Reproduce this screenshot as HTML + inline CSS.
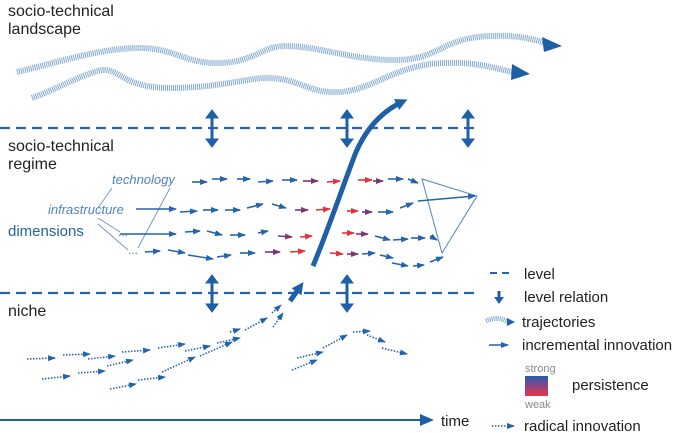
<!DOCTYPE html>
<html><head><meta charset="utf-8"><style>
html,body{margin:0;padding:0;background:#fff;}
svg{display:block;font-family:"Liberation Sans","DejaVu Sans",sans-serif;}
</style></head><body>
<svg width="685" height="433" viewBox="0 0 685 433">
<defs>
<marker id="mb" markerWidth="8" markerHeight="6" refX="7" refY="3" orient="auto" markerUnits="userSpaceOnUse"><path d="M0,0 L8,3 L0,6 Z" fill="#2464ac"/></marker>
<marker id="mp" markerWidth="8" markerHeight="6" refX="7" refY="3" orient="auto" markerUnits="userSpaceOnUse"><path d="M0,0 L8,3 L0,6 Z" fill="#7b3677"/></marker>
<marker id="mr" markerWidth="8" markerHeight="6" refX="7" refY="3" orient="auto" markerUnits="userSpaceOnUse"><path d="M0,0 L8,3 L0,6 Z" fill="#e2323c"/></marker>
<marker id="mbig" markerWidth="12" markerHeight="12" refX="6" refY="6" orient="auto" markerUnits="userSpaceOnUse"><path d="M0,0 L12,6 L0,12 Z" fill="#1f5fa8"/></marker>
<linearGradient id="pg" x1="0" y1="0" x2="0" y2="1"><stop offset="0" stop-color="#2a5cae"/><stop offset="0.5" stop-color="#8a4585"/><stop offset="1" stop-color="#ee3340"/></linearGradient>
</defs>

<g fill="none">
<path d="M17,72 C60,62 100,48 140,48 C175,48 185,64 220,63 C255,62 262,46 285,46 C320,46 350,60 395,60 C440,60 440,38 490,36 C515,35 530,38 545,43" stroke="#7fa6d0" stroke-width="6" stroke-dasharray="1 1"/>
<path d="M32,98 C60,88 90,70 105,70 C120,70 125,88 170,88 C220,88 250,77 270,78 C300,79 310,94 340,92 C370,90 390,70 430,64 C470,60 490,67 512,72" stroke="#7fa6d0" stroke-width="6" stroke-dasharray="1 1"/>
<path d="M542,37 L562,46 L544,52 Z" fill="#1f5fa8"/>
<path d="M512,64 L530,74 L511,80 Z" fill="#1f5fa8"/>
</g>

<g stroke="#2464ac" stroke-width="2.2" stroke-dasharray="10 6">
<line x1="0" y1="128" x2="478" y2="128"/>
<line x1="0" y1="293" x2="478" y2="293"/>
</g>

<g fill="#1f5fa8" stroke="#1f5fa8">
<g><line x1="212" y1="116" x2="212" y2="141" stroke-width="3"/><path d="M206,118 L212,110 L218,118 Z"/><path d="M206,139 L212,147 L218,139 Z"/></g>
<g><line x1="347" y1="116" x2="347" y2="141" stroke-width="3"/><path d="M341,118 L347,110 L353,118 Z"/><path d="M341,139 L347,147 L353,139 Z"/></g>
<g><line x1="468" y1="116" x2="468" y2="141" stroke-width="3"/><path d="M462,118 L468,110 L474,118 Z"/><path d="M462,139 L468,147 L474,139 Z"/></g>
<g><line x1="212" y1="281" x2="212" y2="306" stroke-width="3"/><path d="M206,283 L212,275 L218,283 Z"/><path d="M206,304 L212,312 L218,304 Z"/></g>
<g><line x1="347" y1="281" x2="347" y2="306" stroke-width="3"/><path d="M341,283 L347,275 L353,283 Z"/><path d="M341,304 L347,312 L353,304 Z"/></g>
</g>

<g font-size="16" fill="#222">
<text x="8" y="16">socio-technical</text>
<text x="8" y="34">landscape</text>
<text x="8" y="151">socio-technical</text>
<text x="8" y="169">regime</text>
<text x="8" y="316">niche</text>
</g>

<g fill="#4f84c0">
<text x="112" y="184" font-size="13" font-style="italic">technology</text>
<text x="48" y="214" font-size="13" font-style="italic">infrastructure</text>
<text x="8" y="236" font-size="15" fill="#2464ac">dimensions</text>
<text x="118" y="236" font-size="12">...</text>
<text x="128" y="254" font-size="12">...</text>
<g stroke="#6a96c8" stroke-width="0.9" fill="none">
<line x1="112" y1="188" x2="98" y2="208"/>
<line x1="170" y1="188" x2="138" y2="248"/>
<line x1="98" y1="218" x2="120" y2="232"/>
<line x1="98" y1="224" x2="128" y2="250"/>
</g>
</g>

<path d="M422,179 L477,196 L442,253 Z" fill="none" stroke="#4f84c0" stroke-width="1"/>

<g id="incremental"></g>

<g fill="none" stroke="#1f5fa8">
<path d="M313,266 C330,225 345,180 356,152 C368,125 385,110 402,102" stroke-width="5" marker-end="url(#mbig)"/>
<path d="M290,301 L300,287" stroke-width="5" marker-end="url(#mbig)"/>
</g>

<g id="radical"></g>

<g>
<line x1="0" y1="420" x2="422" y2="420" stroke="#1f5fa8" stroke-width="2"/>
<path d="M420,414 L434,420 L420,426 Z" fill="#1f5fa8"/>
<text x="441" y="426" font-size="15" fill="#222">time</text>
</g>

<g font-size="15" fill="#222">
<g><line x1="490" y1="273" x2="512" y2="273" stroke="#2464ac" stroke-width="2" stroke-dasharray="7 5"/><text x="524" y="279">level</text></g>
<g><line x1="499" y1="291" x2="499" y2="298" stroke="#1f5fa8" stroke-width="3"/><path d="M494,297 L499,304 L504,297 Z" fill="#1f5fa8"/><text x="524" y="302">level relation</text></g>
<g><path d="M486,321 C495,317 502,318 508,322" stroke="#7fa6d0" stroke-width="5" stroke-dasharray="1 1" fill="none"/><path d="M507,318 L515,322 L507,326 Z" fill="#1f5fa8"/><text x="522" y="327">trajectories</text></g>
<g><line x1="489" y1="345" x2="508" y2="345" stroke="#2464ac" stroke-width="1.5" marker-end="url(#mb)"/><text x="522" y="350">incremental innovation</text></g>
<g>
<text x="525" y="372" font-size="11" fill="#888">strong</text>
<rect x="525" y="376" width="23" height="20" fill="url(#pg)"/>
<text x="525" y="408" font-size="11" fill="#888">weak</text>
<text x="572" y="390">persistence</text>
</g>
<g><line x1="492" y1="426" x2="514" y2="426" stroke="#2464ac" stroke-width="1.5" stroke-dasharray="1.5 1.5" marker-end="url(#mb)"/><text x="524" y="431">radical innovation</text></g>
</g>

<script>
const incSegments = [
[192,182,207,182,'b'],[212,179,227,179,'b'],[237,179,250,179,'b'],[258,182,273,181,'b'],[282,180,297,180,'b'],[303,181,318,181,'p'],[327,182,340,181,'r'],[358,180,372,180,'r'],[373,181,383,181,'p'],[388,179,403,179,'b'],[408,179,418,183,'b'],
[136,209,176,209,'b'],[180,212,197,211,'b'],[203,210,218,210,'b'],[225,210,240,210,'b'],[247,208,263,204,'b'],[272,204,286,208,'b'],[295,210,308,210,'p'],[316,210,330,209,'r'],[347,211,358,211,'r'],[362,212,372,212,'p'],[378,212,393,212,'b'],[400,208,413,203,'b'],[418,201,475,196,'b'],
[120,234,176,234,'b'],[185,232,200,231,'b'],[207,231,222,235,'b'],[230,235,245,235,'b'],[258,233,268,231,'b'],[278,236,292,237,'p'],[300,237,312,236,'r'],[342,233,354,233,'r'],[356,234,368,234,'p'],[375,236,390,240,'b'],[393,240,408,239,'b'],[411,238,425,238,'b'],[430,236,437,240,'b'],
[145,252,160,251,'b'],[168,250,185,253,'b'],[188,255,213,259,'b'],[217,257,231,255,'b'],[240,253,255,253,'b'],[265,252,280,252,'p'],[290,252,305,251,'r'],[330,253,343,254,'r'],[347,254,358,254,'p'],[362,254,375,253,'b'],[380,255,393,258,'b'],[392,263,408,266,'b'],[413,266,424,265,'b'],[430,262,443,257,'b']
];
const radSegments = [
[27,359,55,358],[42,379,70,376],[63,355,90,354],[78,373,105,371],[88,359,115,356],[107,366,133,360],[122,352,150,350],[110,389,136,384],[138,380,165,377],[158,348,185,344],[162,372,195,357],[185,351,210,346],[200,356,232,342],[217,343,240,338],[230,332,240,329],[245,330,267,318],[272,313,281,305],[273,327,283,313],
[292,370,317,360],[297,358,323,352],[323,348,347,335],[353,332,370,331],[367,335,385,342],[382,348,407,354]
];
const colorMap = {b:'#2464ac', p:'#7b3677', r:'#e2323c'};
const NS = 'http://www.w3.org/2000/svg';
const gi = document.getElementById('incremental');
incSegments.forEach(s => {
  const l = document.createElementNS(NS,'line');
  
  
  l.setAttribute('x1',s[0]); l.setAttribute('y1',s[1]);
  l.setAttribute('x2',s[2]); l.setAttribute('y2',s[3]);
  l.setAttribute('stroke',colorMap[s[4]]);
  l.setAttribute('stroke-width','1.6');
  l.setAttribute('marker-end','url(#m'+s[4]+')');
  gi.appendChild(l);
});
const gr = document.getElementById('radical');
radSegments.forEach(s => {
  const l = document.createElementNS(NS,'line');
  
  
  l.setAttribute('x1',s[0]); l.setAttribute('y1',s[1]);
  l.setAttribute('x2',s[2]); l.setAttribute('y2',s[3]);
  l.setAttribute('stroke','#2464ac');
  l.setAttribute('stroke-width','1.6');
  l.setAttribute('stroke-dasharray','1.5 1.5');
  l.setAttribute('marker-end','url(#mb)');
  gr.appendChild(l);
});
</script>
</svg>
</body></html>
